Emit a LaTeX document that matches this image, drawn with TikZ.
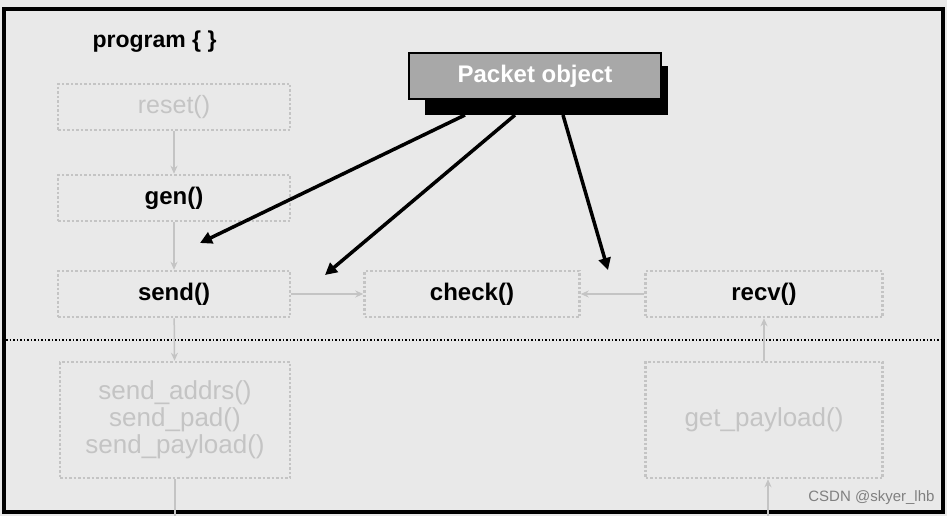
\documentclass[tikz,border=0pt]{standalone}
\usepackage{fontspec}
\setmainfont{Liberation Sans}
\usetikzlibrary{arrows.meta}
\definecolor{bg}{HTML}{E9E9E9}
\definecolor{faint}{HTML}{C4C4C4}
\definecolor{pk}{HTML}{A8A8A8}
\tikzset{
  fbox/.style={draw=faint,line width=2.5pt,dotted,minimum width=#1,minimum height=46pt,inner sep=0pt,font=\fontsize{24}{26}\selectfont\bfseries},
  ghost/.style={text=faint},
  farrow/.style={draw=faint,line width=1.5pt,-{Stealth[length=8pt,width=7pt]}},
  fline/.style={draw=faint,line width=1.5pt},
  barrow/.style={draw=black,line width=3.5pt,-{Triangle[length=12pt,width=12pt]}}
}
\begin{document}
\begin{tikzpicture}[x=1pt,y=-1pt]
\useasboundingbox (0,0) rectangle (947,516);
\fill[bg] (0,0) rectangle (947,516);
\draw[line width=4pt] (4,9) rectangle (943,512);
\draw[line width=1.5pt,dotted] (6,340) -- (941,340);
\node[font=\fontsize{23}{26}\selectfont\bfseries,anchor=west] (prog) at (89,42) {program \{ \}};
\node[fbox=232pt,ghost,font=\fontsize{25}{28}\selectfont] (reset) at (174,107) {reset()};
\node[fbox=232pt] (gen) at (174,198) {gen()};
\node[fbox=232pt] (send) at (174,294) {send()};
\node[fbox=215pt] (check) at (472,294) {check()};
\node[fbox=237pt] (recv) at (764,294) {recv()};
\node[fbox=230pt,minimum height=116pt,ghost,font=\fontsize{26}{27}\selectfont,align=center] (sa) at (175,420) {send\_addrs()\\send\_pad()\\send\_payload()};
\node[fbox=237pt,minimum height=116pt,ghost,font=\fontsize{26}{28}\selectfont] (gp) at (764,420) {get\_payload()};
\coordinate (b1) at (175,516);
\coordinate (b2) at (768,516);
\fill[black] (425,66) rectangle (668,115);
\node[draw=black,line width=2.5pt,fill=pk,minimum width=252pt,minimum height=46pt,inner sep=0pt,text=white,font=\fontsize{24}{26}\selectfont\bfseries] (pkt) at (535,76) {Packet object};
\draw[farrow] (reset) -- (gen);
\draw[farrow] (gen) -- (send);
\draw[farrow] (send) -- (check);
\draw[farrow] (recv) -- (check);
\draw[farrow] (send) -- (sa);
\draw[farrow] (gp) -- (recv);
\draw[fline] (sa) -- (b1);
\draw[farrow] (b2) -- (gp.south -| b2);
\draw[barrow] (465,115) -- (200,243);
\draw[barrow] (515,115) -- (325,275);
\draw[barrow] (563,115) -- (608,270);
\node[text=gray,font=\fontsize{15}{16}\selectfont,anchor=east] (csdn) at (938,498) {CSDN @skyer\_lhb};
\end{tikzpicture}
\end{document}
